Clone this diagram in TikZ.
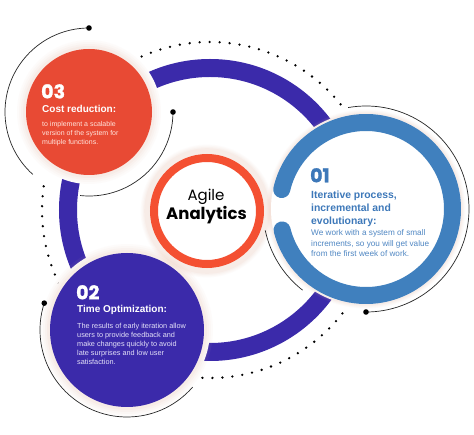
\documentclass[tikz,border=0pt]{standalone}
\usepackage{fontspec}
\setmainfont{Liberation Sans}
\newfontfamily\popf{Poppins}
\newfontfamily\popnum{Poppins}[BoldFeatures={FakeBold=1.2}]
\definecolor{redc}{RGB}{232,74,52}
\definecolor{ringred}{RGB}{244,80,50}
\definecolor{purp}{RGB}{59,42,170}
\definecolor{bluec}{RGB}{64,128,190}
\definecolor{bluetxt}{RGB}{61,120,185}
\definecolor{bluebody}{RGB}{80,135,195}
\definecolor{glowc}{RGB}{235,190,170}
\definecolor{redbody}{RGB}{255,228,220}
\definecolor{purpbody}{RGB}{228,225,248}
\tikzset{
  blackarc/.style={draw=black!85, line width=0.7pt},
  dotline/.style={draw=black, line width=2.6pt, line cap=round, dash pattern=on 0pt off 10pt},
  numtxt/.style={anchor=north west, inner sep=0pt, font=\popnum\bfseries\fontsize{19}{19}\selectfont},
  headtxt/.style={anchor=north west, inner sep=0pt, align=left, font=\bfseries\fontsize{10}{12.7}\selectfont},
  bodytxt/.style={anchor=north west, inner sep=0pt, align=left},
  enddot/.style={fill=black}
}
\begin{document}
\begin{tikzpicture}[x=1pt,y=-1pt]
\useasboundingbox (0,0) rectangle (474,435);
\fill[white] (0,0) rectangle (474,435);
\coordinate (C) at (210,210);
\coordinate (R) at (89,112);
\coordinate (P) at (127,330);
\coordinate (B) at (366,209);
\coordinate (M) at (207,211);
% dotted big circle
\draw[dotline] (C) ++(-114:168) arc[start angle=-114, end angle=-38, radius=168];
\draw[dotline] (C) ++(38:168) arc[start angle=38, end angle=95, radius=168];
\draw[dotline] (C) ++(154:168) arc[start angle=154, end angle=191, radius=168];
% purple ring
\draw[purp, line width=18pt] (C) circle[radius=142];
% halos and glows
\fill[white] (R) circle[radius=72];
\fill[white] (P) circle[radius=83];
\fill[white] (B) circle[radius=97];
\fill[white] (M) circle[radius=66];
\foreach \d/\o in {9/0.05,7/0.06,5/0.08,3/0.1}{
  \fill[glowc, opacity=\o] (R) circle[radius=63+\d];
  \fill[glowc, opacity=\o] (P) circle[radius=77+\d];
  \fill[glowc, opacity=\o] (B) circle[radius=95+\d*0.5];
  \fill[glowc, opacity=\o] (M) circle[radius=61+\d*0.6];
}
% main circles
\fill[redc] (R) circle[radius=63];
\fill[purp] (P) circle[radius=77];
\fill[white] (B) circle[radius=95];
\draw[bluec, line width=17pt, line cap=round] (B) ++(193:86.5) arc[start angle=193, end angle=526, radius=86.5];
\draw[ringred, line width=8pt, fill=white] (M) circle[radius=53];
% black arcs
\draw[blackarc] (R) ++(132:84) arc[start angle=132, end angle=270, radius=84];
\fill[enddot] (R) ++(270:84) circle[radius=2.8];
\draw[blackarc] (R) ++(0:84) arc[start angle=0, end angle=96, radius=84];
\fill[enddot] (R) ++(0:84) circle[radius=2.8];
\draw[blackarc] (P) ++(41:87) arc[start angle=41, end angle=198, radius=87];
\fill[enddot] (P) ++(198:87) circle[radius=2.8];
\draw[blackarc] (B) ++(-100:103) arc[start angle=-100, end angle=90, radius=103];
\fill[enddot] (B) ++(90:103) circle[radius=2.8];
\draw[blackarc] (B) ++(128:103) arc[start angle=128, end angle=168, radius=103];
% center text
\node[inner sep=0pt, font=\popf\fontsize{15}{15}\selectfont] (agile) at (206,197) {Agile};
\node[inner sep=0pt, font=\popf\bfseries\fontsize{16.5}{16.5}\selectfont] (analytics) at (206.5,215) {Analytics};
% 03
\node[numtxt, white] (n03) at (41,84) {03};
\node[headtxt, white] (h03) at (42,105) {Cost reduction:};
\node[bodytxt, redbody, font=\fontsize{7}{9}\selectfont] (b03) at (42,121.7) {to implement a scalable\\version of the system for\\multiple functions.};
% 02
\node[numtxt, white] (n02) at (76,285) {02};
\node[headtxt, white] (h02) at (77,305) {Time Optimization:};
\node[bodytxt, purpbody, font=\fontsize{7.3}{9}\selectfont] (b02) at (77,322.7) {The results of early iteration allow\\users to provide feedback and\\make changes quickly to avoid\\late surprises and low user\\satisfaction.};
% 01
\node[numtxt, bluetxt] (n01) at (310,168) {01};
\node[headtxt, bluetxt, font=\bfseries\fontsize{10.4}{12.7}\selectfont] (h01) at (311,191) {Iterative process,\\incremental and\\evolutionary:};
\node[bodytxt, bluebody, font=\fontsize{8.2}{10.4}\selectfont] (b01) at (311,229.5) {We work with a system of small\\increments, so you will get value\\from the first week of work.};
\end{tikzpicture}
\end{document}
